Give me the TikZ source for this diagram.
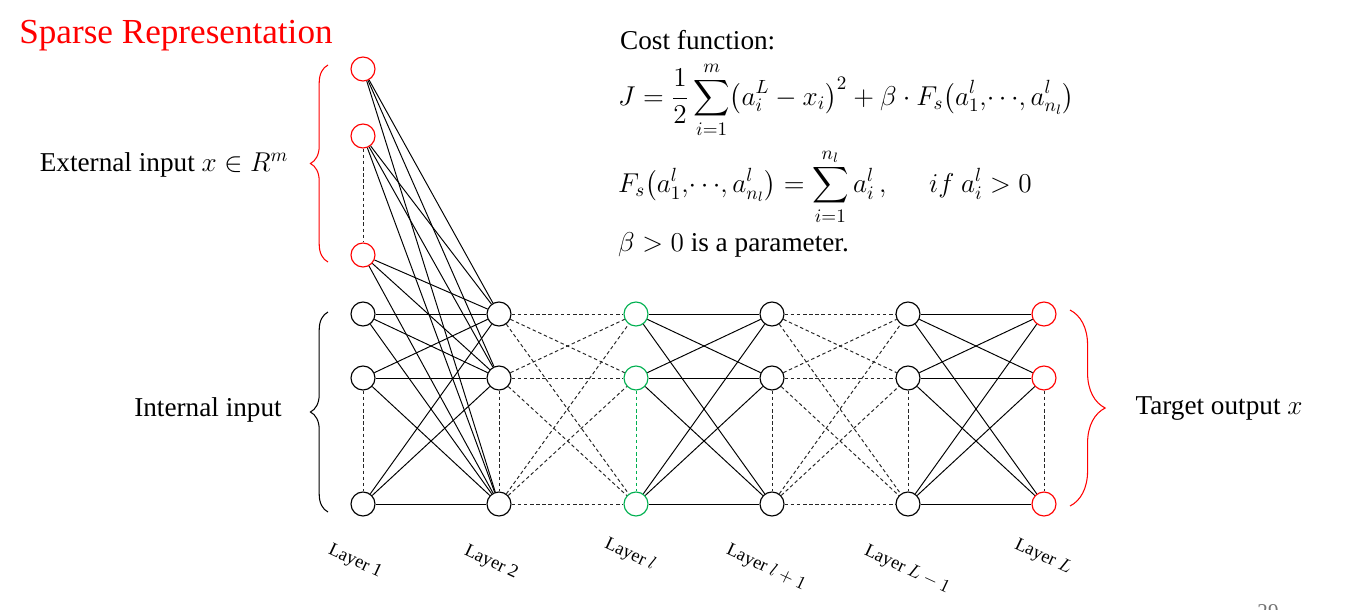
\RequirePackage{fix-cm}
\documentclass[tikz,border=0pt]{standalone}
\usepackage{amsmath}
\usepackage{fontspec}
\setmainfont{Liberation Serif}
\usepackage{tikz}
\usetikzlibrary{decorations.pathreplacing}
\definecolor{unitgreen}{RGB}{0,176,80}

\begin{document}
\begin{tikzpicture}[x=0.02cm,y=-0.02cm,
  unit/.style={circle,draw,line width=0.65pt,minimum size=0.48cm,inner sep=0pt},
  link/.style={line width=0.55pt},
  dlink/.style={line width=0.55pt,dash pattern=on 2pt off 1.5pt,black!85},
  lbl/.style={font=\fontsize{15.5}{18}\selectfont},
  layerlbl/.style={rotate=-25,font=\fontsize{10.5}{12}\selectfont},
  curly/.style={decorate,decoration={brace,amplitude=#1},line width=0.6pt}]
  \useasboundingbox (0,0) rectangle (1355,609);
  % units
  \foreach \c/\x/\col in {1/363/black,2/499/black,3/636/unitgreen,4/772/black,5/908/black,6/1044/red}
    \foreach \r/\y in {1/314,2/378,3/504}
      \node[unit,draw=\col] (n\c-\r) at (\x,\y) {};
  \foreach \r/\y in {1/69,2/136,3/255}
    \node[unit,draw=red] (x\r) at (363,\y) {};
  % connections
  \foreach \i in {1,2,3}
    \foreach \j in {1,2,3} {
      \draw[link] (x\i) -- (n2-\j);
      \draw[link] (n1-\i) -- (n2-\j);
      \draw[dlink] (n2-\i) -- (n3-\j);
      \draw[link] (n3-\i) -- (n4-\j);
      \draw[dlink] (n4-\i) -- (n5-\j);
      \draw[link] (n5-\i) -- (n6-\j);
    }
  \draw[dlink] (x2) -- (x3);
  \foreach \c in {1,2,4,5,6}
    \draw[dlink] (n\c-2) -- (n\c-3);
  \draw[dlink,unitgreen] (n3-2) -- (n3-3);
  % braces
  \draw[curly=10pt,red] (328,262) -- (328,65);
  \draw[curly=10pt] (328,512) -- (328,312);
  \draw[curly=20pt,red] (1070,310) -- (1070,506);
  % labels
  \node[text=red,font=\fontsize{20}{24}\selectfont] (title) at (176,36) {Sparse Representation};
  \node[lbl] (extin) at (164,165) {External input $x\in R^m$};
  \node[lbl] (intin) at (208,410) {Internal input};
  \node[lbl] (target) at (1219,409) {Target output $x$};
  % cost function
  \node[lbl,anchor=west] (cost) at (614,40) {Cost function:};
  \node[lbl,anchor=west] (jfun) at (612,100)
    {$J=\dfrac{1}{2}\displaystyle\sum_{i=1}^{m}\bigl(a_i^L-x_i\bigr)^2+\beta\cdot F_s\bigl(a_1^l,\!\cdots\!,a_{n_l}^l\bigr)$};
  \node[lbl,anchor=west] (fsfun) at (612,187)
    {$\displaystyle F_s\bigl(a_1^l,\!\cdots\!,a_{n_l}^l\bigr)=\sum_{i=1}^{n_l}a_i^l\,,\hspace{1.4em}if\ a_i^l>0$};
  \node[lbl,anchor=west] (beta) at (612,245) {$\beta>0$ is a parameter.};
  % layer names
  \node[layerlbl] (lay1) at (355,562) {Layer 1};
  \node[layerlbl] (lay2) at (491,563) {Layer 2};
  \node[layerlbl] (layl) at (630,555) {Layer $l$};
  \node[layerlbl] (laylp) at (766,568) {Layer $l+1$};
  \node[layerlbl] (layLm) at (907,570) {Layer $L-1$};
  \node[layerlbl] (layL) at (1043,557) {Layer $L$};
  \node[text=black!55,font=\fontsize{12}{14}\selectfont] (page) at (1268,612) {29};
\end{tikzpicture}
\end{document}
